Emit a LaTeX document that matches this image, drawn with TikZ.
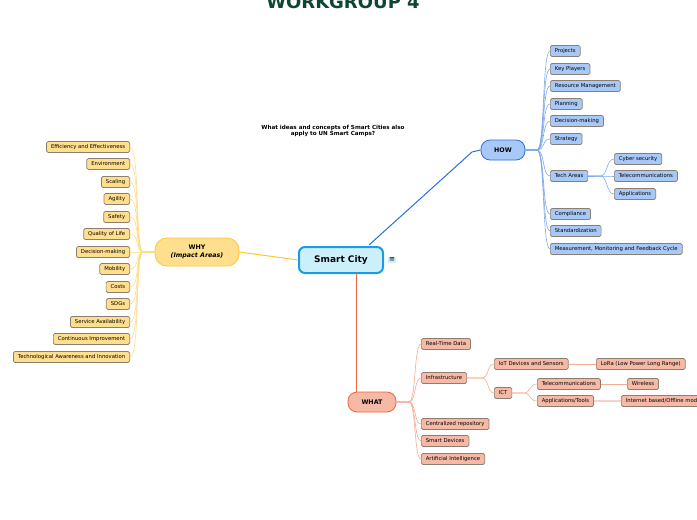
\documentclass[tikz,border=0pt]{standalone}
\usepackage{fontspec}
\setmainfont{DejaVu Sans}
\definecolor{whyf}{HTML}{FFDF8E}\definecolor{whyl}{HTML}{FFC533}
\definecolor{howf}{HTML}{A8C9F8}\definecolor{howl}{HTML}{2A6FD8}
\definecolor{whatf}{HTML}{F6B9A5}\definecolor{whatl}{HTML}{F0663E}
\definecolor{bord}{HTML}{8A7F70}
\definecolor{ttl}{HTML}{0E4534}
\begin{document}
\begin{tikzpicture}[x=1pt,y=-1pt,
 leaf/.style={draw=bord,line width=0.7pt,rounded corners=1.5pt,inner sep=0pt,inner xsep=4.5pt,minimum height=11pt,font=\fontsize{5.3}{6}\selectfont},
 yl/.style={leaf,fill=whyf}, bl/.style={leaf,fill=howf}, rl/.style={leaf,fill=whatf},
 ye/.style={draw=whyl!60,line width=0.6pt}, be/.style={draw=howl!60,line width=0.6pt}, re/.style={draw=whatl!55,line width=0.6pt},
 main/.style={rounded corners=9pt,line width=0.8pt,font=\fontsize{6.3}{7.3}\selectfont\bfseries,align=center}]
\useasboundingbox (0,0) rectangle (697,520);
\clip (0,0) rectangle (697,520);
\node[font=\fontsize{18}{20}\selectfont\bfseries,text=ttl,anchor=base] (t) at (343,8) {WORKGROUP 4};
\node[font=\fontsize{5.6}{6.5}\selectfont\bfseries,align=center] (q) at (333,131) {What ideas and concepts of Smart Cities also\\apply to UN Smart Camps?};
% central
\node[main,draw=howl!70!cyan,fill=cyan!20,line width=2pt,minimum width=84pt,minimum height=26pt,font=\fontsize{9}{10}\selectfont\bfseries,rounded corners=6pt] (sc) at (341,260) {Smart City};
\node[fill=cyan!20,font=\fontsize{7}{7}\selectfont,inner sep=1pt] (ic) at (392,260) {≡};
\node[main,draw=whyl,fill=whyf,minimum width=84pt,minimum height=28pt,rounded corners=12pt] (why) at (197,252) {WHY\\\textit{(Impact Areas)}};
\node[main,draw=howl,fill=howf,minimum width=44pt,minimum height=20pt] (how) at (503,150) {HOW};
\node[main,draw=whatl,fill=whatf,minimum width=48pt,minimum height=20pt] (what) at (372,402) {WHAT};
\draw[whyl,line width=1pt] (sc.west) -- (why.east);
\draw[howl,line width=1pt] (sc.north) ++(28,-1) coordinate (h0) -- (472,152) coordinate (h1) -- (how.west);
\draw[whatl,line width=1pt] (356,273) coordinate (w0) -- (356,392) coordinate (w1);
% WHY leaves
\foreach \n/\y/\t in {a/147/Efficiency and Effectiveness,b/164/Environment,c/182/Scaling,d/199/Agility,e/217/Safety,f/234/Quality of Life,g/252/Decision-making,h/269/Mobility,i/287/Costs,j/304/SDGs,k/322/Service Availability,l/339/Continuous Improvement,m/357/Technological Awareness and Innovation}{
 \node[yl,anchor=east] (y\n) at (130,\y) {\t};
 \draw[ye] (why.west) -- (143,252) .. controls (135,252) and (140,\y) .. (y\n.east);}
% HOW leaves
\foreach \n/\y/\t in {a/51/Projects,b/69/Key Players,c/86/Resource Management,d/104/Planning,e/121/Decision-making,f/139/Strategy,g/176/Tech Areas,h/214/Compliance,i/231/Standardization,j/249/{Measurement, Monitoring and Feedback Cycle}}{
 \node[bl,anchor=west] (b\n) at (550,\y) {\t};
 \draw[be] (how.east) -- (537,150) .. controls (545,150) and (542,\y) .. (b\n.west);}
\foreach \n/\y/\t in {a/159/Cyber security,b/176/Telecommunications,c/194/Applications}{
 \node[bl,anchor=west] (t\n) at (614,\y) {\t};
 \draw[be] (bg.east) -- (600,176) .. controls (608,176) and (606,\y) .. (t\n.west);}
% WHAT leaves
\foreach \n/\y/\t in {a/344/Real-Time Data,b/378/Infrastructure,c/424/Centralized repository,d/441/Smart Devices,e/459/Artificial Intelligence}{
 \node[rl,anchor=west] (r\n) at (421,\y) {\t};
 \draw[re] (what.east) -- (409,402) .. controls (416,402) and (414,\y) .. (r\n.west);}
\node[rl,anchor=west] (iot) at (494,364) {IoT Devices and Sensors};
\node[rl,anchor=west] (ict) at (494,393) {ICT};
\node[rl,anchor=west] (lora) at (596,364) {LoRa (Low Power Long Range)};
\node[rl,anchor=west] (tel) at (537,384) {Telecommunications};
\node[rl,anchor=west] (app) at (537,401) {Applications/Tools};
\node[rl,anchor=west] (wir) at (627,384) {Wireless};
\node[rl,anchor=west] (int) at (621,401) {Internet based/Offline mode};
\draw[re] (rb.east) -- (482,378) .. controls (489,378) and (487,364) .. (iot.west);
\draw[re] (rb.east) -- (482,378) .. controls (489,378) and (487,393) .. (ict.west);
\draw[re] (ict.east) -- (524,393) .. controls (531,393) and (529,384) .. (tel.west);
\draw[re] (ict.east) -- (524,393) .. controls (531,393) and (529,401) .. (app.west);
\draw[re] (iot.east) -- (lora.west);
\draw[re] (tel.east) -- (wir.west);
\draw[re,line width=1.2pt,draw=whatl!30] (app.east) -- (int.west);
\end{tikzpicture}
\end{document}
